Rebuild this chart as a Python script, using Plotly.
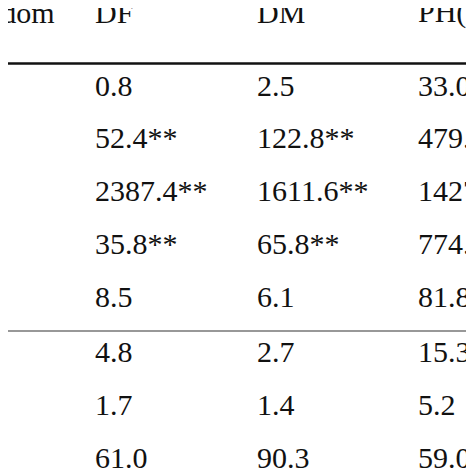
import plotly.graph_objects as go

W = H = 474
headers = ["edom", "DF", "DM", "PH(cm)"]
df_vals = ["0.8", "52.4**", "2387.4**", "35.8**", "8.5", "4.8", "1.7", "61.0"]
dm_vals = ["2.5", "122.8**", "1611.6**", "65.8**", "6.1", "2.7", "1.4", "90.3"]
ph_vals = ["33.0", "479.6**", "1427.1**", "774.6**", "81.8", "15.3", "5.2", "59.0"]

OFF = 9  # page offset compensation
row_y = [86, 138, 191, 244, 297, 352, 405, 458]
col_x = [94, 256, 417]
font = dict(family="Liberation Serif", size=30, color="#111")

fig = go.Figure()
ann = []
def add(x, y, t, anchor="left"):
    ann.append(dict(x=(x - OFF) / W, y=1 - (y - OFF) / H, xref="paper", yref="paper", text=t,
                    showarrow=False, xanchor=anchor, yanchor="middle", font=font))
add(58, 13, headers[0], "right")
for i, h in enumerate(headers[1:]):
    add(col_x[i], 13, h)
for vals, x in zip([df_vals, dm_vals, ph_vals], col_x):
    for v, y in zip(vals, row_y):
        add(x, y, v)
def hline(y, w, c):
    yy = 1 - (y - OFF) / H
    return dict(type="line", xref="paper", yref="paper", x0=-0.1, x1=1.1, y0=yy, y1=yy,
                line=dict(color=c, width=w))
shapes = [hline(64.5, 2.4, "#111"), hline(332, 1.2, "#333")]
fig.update_layout(width=W, height=H, margin=dict(l=0, r=0, t=0, b=0),
                  paper_bgcolor="white", plot_bgcolor="white",
                  xaxis=dict(visible=False), yaxis=dict(visible=False),
                  annotations=ann, shapes=shapes, showlegend=False)
fig.write_html("out.html")
